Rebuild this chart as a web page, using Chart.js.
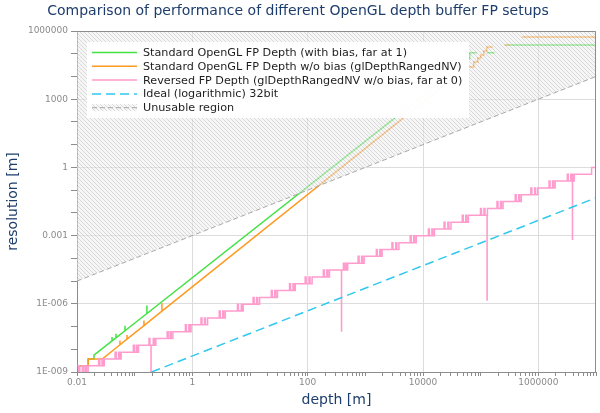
<!DOCTYPE html>
<html lang="en">
<head>
    <meta charset="UTF-8">
    <title>OpenGL depth buffer FP setups</title>
    <script src="https://cdn.jsdelivr.net/npm/chart.js"></script>
    <style>
        body { margin: 0; background: #fff; }
        #wrap { width: 600px; height: 413px; }
    </style>
</head>
<body>
    <div id="wrap"><canvas id="depthChart" width="600" height="413"></canvas></div>

    <script>
        // axis ticks
        const xMajor = [0.01, 1, 100, 10000, 1000000];
        const xTickLabels = ['0.01', '1', '100', '10000', '1000000'];
        const yMajor = [1e-9, 1e-6, 1e-3, 1, 1000, 1e6];
        const yTickLabels = ['1E-009', '1E-006', '0.001', '1', '1000', '1000000'];

        const seriesNames = [
            'Standard OpenGL FP Depth (with bias, far at 1)',
            'Standard OpenGL FP Depth w/o bias (glDepthRangedNV)',
            'Reversed FP Depth (glDepthRangedNV w/o bias, far at 0)',
            'Ideal (logarithmic) 32bit',
            'Unusable region'
        ];

        // standard, with bias (null = gap)
        const greenX = [0.01, 0.015625, 0.015625, 0.0197, 0.0197, 0.0405, 0.0405, 0.0405, 0.0474, 0.0474, 0.0474,
            0.0679, 0.0679, 0.0679, 0.163, 0.163, 0.163, 64700, 64700, 85500, 85500, 127600, 175400, 175400, 261800, 10000000];
        const greenY = [1.863e-9, 1.863e-9, 3.725e-9, 3.725e-9, 5.5e-9, 2.32e-8, 3.47e-8, 2.32e-8, 3.18e-8, 4.8e-8, 3.18e-8,
            6.52e-8, 1.08e-7, 6.52e-8, 3.75e-7, 8.5e-7, 3.75e-7, 59200, 111400, 111400, null, 111400, 111400, null, 243200, 243200];

        // standard, w/o bias
        const orangeX = [0.01, 0.015625, 0.015625, 0.028, 0.028, 0.0556, 0.0556, 0.0556, 0.0736, 0.0736, 0.0736,
            0.145, 0.145, 0.145, 0.297, 0.297, 0.297, 58100, 75900, 75900, 89100, 89100, 100500, 100500, 113200,
            113200, 127600, 127600, 162200, 162200, 261800, 319200, 319200, 515200, 10000000];
        const orangeY = [1.863e-9, 1.863e-9, 3.725e-9, 3.725e-9, 3.9e-9, 1.58e-8, 2.4e-8, 1.58e-8, 2.79e-8, 4.2e-8, 2.79e-8,
            1.1e-7, 1.83e-7, 1.1e-7, 4.74e-7, 1.07e-6, 4.74e-7, 26200, 26200, 43400, 43400, 65200, 65200, 88300, 88300,
            132400, 132400, 198600, 198600, null, 243200, 243200, null, 547000, 547000];

        // reversed (stepped)
        const pinkX = [0.01, 0.0107, 0.0112, 0.0124, 0.0129, 0.0138, 0.0146, 0.015625, 0.0237, 0.0249, 0.0272, 0.0285, 0.0297,
            0.0458, 0.048, 0.0526, 0.0551, 0.0583, 0.0948, 0.099, 0.1073, 0.112, 0.1166,
            0.177, 0.184, 0.192, 0.1925, 0.21, 0.219, 0.233, 0.366, 0.381, 0.412, 0.43, 0.46,
            0.758, 0.79, 0.871, 0.905, 0.95, 1.414, 1.47, 1.625, 1.69, 1.84,
            2.93, 3.05, 3.36, 3.5, 3.73, 6.06, 6.3, 7.06, 7.3, 7.62,
            11.3, 11.8, 13, 13.6, 14.7, 23.4, 24.4, 26.9, 28, 29.9,
            48.5, 50.5, 55.7, 58, 61, 90.5, 94, 105.5, 110, 119.4,
            187, 195, 215, 224, 239, 386, 387, 416, 433, 461, 478, 495,
            750, 780, 861, 895, 955, 1552, 1615, 1783, 1850, 1950,
            2896, 3010, 3376, 3510, 3822, 5997, 6240, 6889, 7160, 7643,
            12420, 12920, 14263, 14830, 15830, 23170, 24100, 27000, 28080, 30570,
            47970, 49900, 55110, 57300, 61150, 99350, 103300, 114100, 118700, 129000, 129500, 131072,
            191800, 199500, 220400, 229200, 244600, 397400, 413300, 456400, 474600, 506600,
            741500, 771200, 864000, 898600, 978300, 1535000, 1596000, 1764000, 1834000, 1957000,
            3179000, 3306000, 3651000, 3800000, 3900000, 3920000, 4000000, 4100000, 4194304, 8388608, 10000000];
        const pinkY = [9.31e-10, 1.863e-9, 9.31e-10, 1.863e-9, 9.31e-10, 1.863e-9, 9.31e-10, 1.863e-9, 3.725e-9, 1.863e-9, 3.725e-9, 1.863e-9, 3.725e-9,
            7.451e-9, 3.725e-9, 7.451e-9, 3.725e-9, 7.451e-9, 1.49e-8, 7.451e-9, 1.49e-8, 7.451e-9, 1.49e-8,
            2.98e-8, 1.49e-8, 1e-9, 1.49e-8, 2.98e-8, 1.49e-8, 2.98e-8, 5.96e-8, 2.98e-8, 5.96e-8, 2.98e-8, 5.96e-8,
            1.192e-7, 5.96e-8, 1.192e-7, 5.96e-8, 1.192e-7, 2.384e-7, 1.192e-7, 2.384e-7, 1.192e-7, 2.384e-7,
            4.768e-7, 2.384e-7, 4.768e-7, 2.384e-7, 4.768e-7, 9.537e-7, 4.768e-7, 9.537e-7, 4.768e-7, 9.537e-7,
            1.907e-6, 9.537e-7, 1.907e-6, 9.537e-7, 1.907e-6, 3.815e-6, 1.907e-6, 3.815e-6, 1.907e-6, 3.815e-6,
            7.629e-6, 3.815e-6, 7.629e-6, 3.815e-6, 7.629e-6, 1.526e-5, 7.629e-6, 1.526e-5, 7.629e-6, 1.526e-5,
            3.052e-5, 1.526e-5, 3.052e-5, 1.526e-5, 3.052e-5, 6.4e-8, 3.052e-5, 6.104e-5, 3.052e-5, 6.104e-5, 3.052e-5, 6.104e-5,
            1.221e-4, 6.104e-5, 1.221e-4, 6.104e-5, 1.221e-4, 2.441e-4, 1.221e-4, 2.441e-4, 1.221e-4, 2.441e-4,
            4.883e-4, 2.441e-4, 4.883e-4, 2.441e-4, 4.883e-4, 9.766e-4, 4.883e-4, 9.766e-4, 4.883e-4, 9.766e-4,
            1.953e-3, 9.766e-4, 1.953e-3, 9.766e-4, 1.953e-3, 3.906e-3, 1.953e-3, 3.906e-3, 1.953e-3, 3.906e-3,
            7.813e-3, 3.906e-3, 7.813e-3, 3.906e-3, 7.813e-3, 1.563e-2, 7.813e-3, 1.563e-2, 7.813e-3, 1.48e-6, 7.813e-3, 1.563e-2,
            3.125e-2, 1.563e-2, 3.125e-2, 1.563e-2, 3.125e-2, 6.25e-2, 3.125e-2, 6.25e-2, 3.125e-2, 6.25e-2,
            0.125, 6.25e-2, 0.125, 6.25e-2, 0.125, 0.25, 0.125, 0.25, 0.125, 0.25,
            0.5, 0.25, 0.5, 0.25, 6.9e-4, 0.25, 0.5, 0.25, 0.5, 1, 1];

        // ideal logarithmic
        const idealX = [0.196, 10000000];
        const idealY = [1e-9, 0.046];

        // unusable region boundary
        const regionX = [0.01, 10000000];
        const regionY = [1e-5, 10000];

        const FONT = 'DejaVu Sans';
        const NAVY = '#1d3d6c';

        function pts(xs, ys) {
            return xs.map((x, i) => ({ x: x, y: ys[i] }));
        }

        function isMajor(v, list) {
            return list.findIndex(m => Math.abs(Math.log10(m) - Math.log10(v)) < 1e-6);
        }

        // diagonal hatch for the unusable region
        function makeHatch() {
            const c = document.createElement('canvas');
            c.width = 4; c.height = 4;
            const g = c.getContext('2d');
            for (let i = 0; i < 4; i++) {
                for (let j = 0; j < 4; j++) {
                    g.fillStyle = (i === j) ? 'rgba(185,185,185,0.55)' : 'rgba(238,238,238,0.55)';
                    g.fillRect(i, j, 1, 1);
                }
            }
            return g.createPattern(c, 'repeat');
        }
        const hatch = makeHatch();

        const xTicks = [];
        for (let k = -2; k <= 6; k++) {
            for (let d = 1; d <= 9; d++) xTicks.push(d * Math.pow(10, k));
        }
        xTicks.push(1e7);
        const yTicks = [];
        for (let k = -9; k <= 6; k++) yTicks.push(Math.pow(10, k));

        // legend box + frame drawn on top of the plot
        const legendBox = { x: 87, y: 42, w: 382, h: 76, row0: 52, rowH: 13.8 };
        const overlayPlugin = {
            id: 'overlay',
            afterDatasetsDraw(chart) {
                const ctx = chart.ctx;
                const a = chart.chartArea;
                ctx.save();
                ctx.strokeStyle = '#8c8c8c';
                ctx.lineWidth = 1;
                ctx.beginPath();
                ctx.moveTo(a.left, Math.round(a.top) + 0.5);
                ctx.lineTo(Math.round(a.right) - 0.5, Math.round(a.top) + 0.5);
                ctx.lineTo(Math.round(a.right) - 0.5, a.bottom);
                ctx.stroke();

                const b = legendBox;
                ctx.fillStyle = 'rgba(255,255,255,0.97)';
                ctx.fillRect(b.x, b.y, b.w, b.h);
                chart.data.datasets.forEach((ds, i) => {
                    const y = b.row0 + i * b.rowH;
                    if (ds.fill) {
                        ctx.fillStyle = hatch;
                        ctx.fillRect(92, y - 3, 45, 7);
                    }
                    ctx.setLineDash(ds.borderDash || []);
                    ctx.strokeStyle = ds.borderColor;
                    ctx.lineWidth = ds.borderWidth;
                    ctx.beginPath();
                    ctx.moveTo(92, y + 0.5);
                    ctx.lineTo(137, y + 0.5);
                    ctx.stroke();
                    ctx.setLineDash([]);
                    ctx.fillStyle = '#1e1e1e';
                    ctx.font = '11.2px "' + FONT + '"';
                    ctx.textBaseline = 'middle';
                    ctx.fillText(ds.label, 143, y + 1);
                });
                ctx.restore();
            }
        };

        const ctx = document.getElementById('depthChart').getContext('2d');
        const depthChart = new Chart(ctx, {
            type: 'line',
            data: {
                datasets: [{
                    label: seriesNames[0],
                    data: pts(greenX, greenY),
                    borderColor: '#44e244',
                    borderWidth: 1.5,
                    order: 4
                }, {
                    label: seriesNames[1],
                    data: pts(orangeX, orangeY),
                    borderColor: '#ff9a22',
                    borderWidth: 1.5,
                    order: 3
                }, {
                    label: seriesNames[2],
                    data: pts(pinkX, pinkY),
                    borderColor: '#ff9bcd',
                    borderWidth: 1.5,
                    stepped: true,
                    order: 2
                }, {
                    label: seriesNames[3],
                    data: pts(idealX, idealY),
                    borderColor: '#30c8f0',
                    borderWidth: 1.5,
                    borderDash: [9, 5],
                    order: 1
                }, {
                    label: seriesNames[4],
                    data: pts(regionX, regionY),
                    borderColor: '#a8a8a8',
                    borderWidth: 1,
                    borderDash: [5, 3],
                    backgroundColor: hatch,
                    fill: 'end',
                    order: 0
                }]
            },
            options: {
                responsive: false,
                animation: false,
                spanGaps: false,
                layout: { padding: { left: 0, right: 4, top: 0, bottom: 0 } },
                elements: { point: { radius: 0 }, line: { tension: 0 } },
                plugins: {
                    legend: { display: false },
                    tooltip: { enabled: false },
                    title: {
                        display: true,
                        text: 'Comparison of performance of different OpenGL depth buffer FP setups',
                        color: NAVY,
                        font: { family: FONT, size: 14, weight: 'normal' },
                        padding: { top: 3, bottom: 11.2 }
                    }
                },
                scales: {
                    x: {
                        type: 'logarithmic',
                        min: 0.01,
                        max: 1e7,
                        afterBuildTicks: s => { s.ticks = xTicks.map(v => ({ value: v })); },
                        afterFit: s => { s.height = 41; },
                        ticks: {
                            autoSkip: false,
                            maxRotation: 0,
                            minRotation: 0,
                            padding: 1,
                            color: '#8a8a8a',
                            font: { family: FONT, size: 9 },
                            callback: v => { const i = isMajor(v, xMajor); return i >= 0 ? xTickLabels[i] : ''; }
                        },
                        grid: {
                            color: c => (c.tick && isMajor(c.tick.value, xMajor) >= 0) ? '#dcdcdc' : 'rgba(0,0,0,0)',
                            tickColor: '#8c8c8c',
                            tickLength: 4
                        },
                        border: { display: true, color: '#8c8c8c', width: 1 },
                        title: {
                            display: true,
                            text: 'depth [m]',
                            color: NAVY,
                            font: { family: FONT, size: 14 },
                            padding: { top: 0, bottom: 4.6 }
                        }
                    },
                    y: {
                        type: 'logarithmic',
                        min: 1e-9,
                        max: 1e6,
                        afterBuildTicks: s => { s.ticks = yTicks.map(v => ({ value: v })); },
                        afterFit: s => { s.width = 77; },
                        ticks: {
                            autoSkip: false,
                            padding: 3,
                            color: '#8a8a8a',
                            font: { family: FONT, size: 9 },
                            callback: v => { const i = isMajor(v, yMajor); return i >= 0 ? yTickLabels[i] : ''; }
                        },
                        grid: {
                            color: c => (c.tick && isMajor(c.tick.value, yMajor) >= 0) ? '#dcdcdc' : 'rgba(0,0,0,0)',
                            tickColor: '#8c8c8c',
                            tickLength: 6
                        },
                        border: { display: true, color: '#8c8c8c', width: 1 },
                        title: {
                            display: true,
                            text: 'resolution [m]',
                            color: NAVY,
                            font: { family: FONT, size: 14 },
                            padding: { top: 4.6, bottom: 0 }
                        }
                    }
                }
            },
            plugins: [overlayPlugin]
        });
    </script>
</body>
</html>
